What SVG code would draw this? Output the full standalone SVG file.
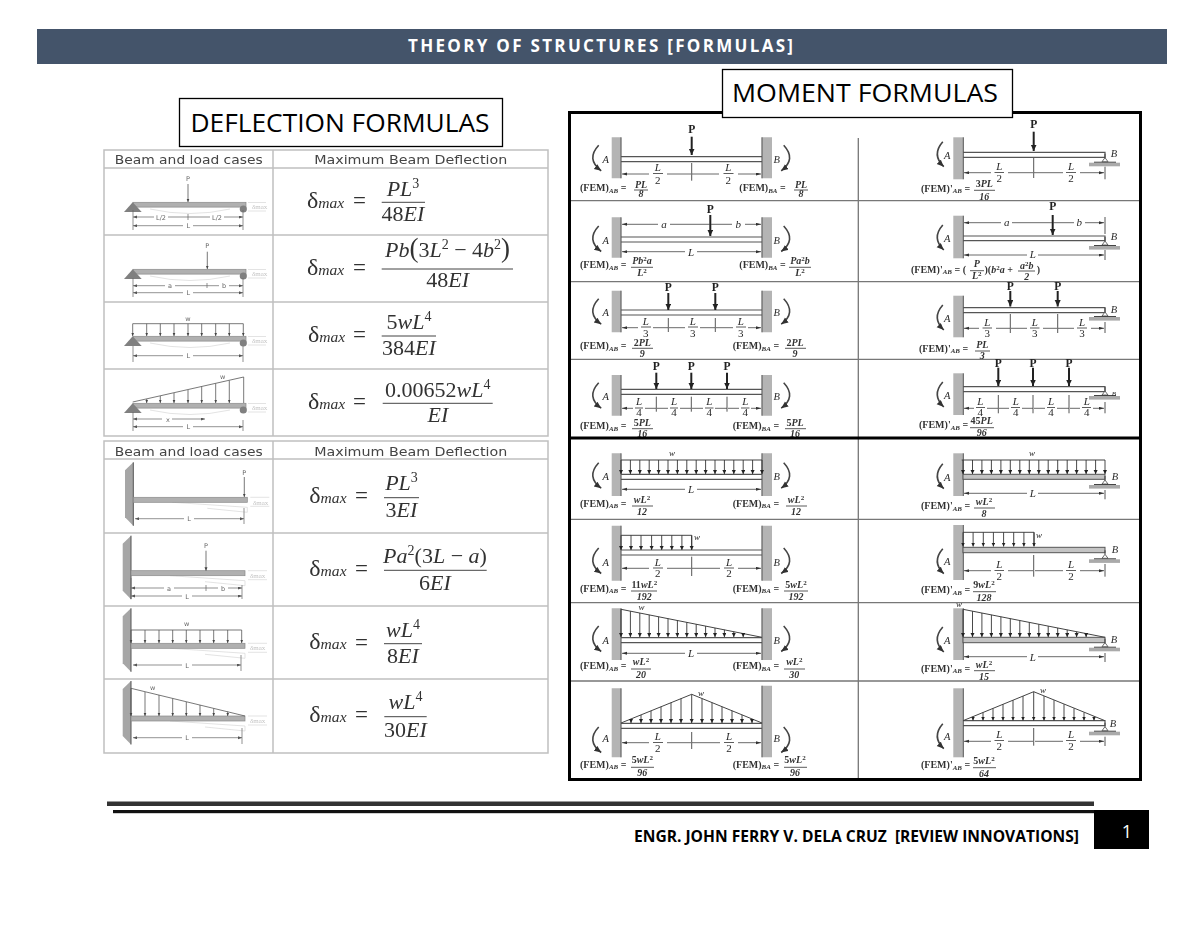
<svg xmlns="http://www.w3.org/2000/svg" width="1200" height="927" viewBox="0 0 1200 927">
<style>
text{font-family:"Liberation Serif","Times New Roman",serif;fill:#2a2a2a}
.hd{font-family:"Open Sans","Liberation Sans",sans-serif;text-anchor:middle}
.th{font-family:"DejaVu Sans","Liberation Sans",sans-serif;font-size:12.7px;fill:#444;text-anchor:middle}
.tl{fill:none;stroke:#c0c0c0;stroke-width:1.5}
.fm{font-style:italic;font-size:22px;text-anchor:middle;fill:#333}
.fx{font-size:24px;fill:#333}
.mx{font-style:italic;font-size:15.6px}
.eq{font-size:23px;fill:#333}
.su{font-style:normal;font-size:14px}
.r{font-style:normal}
.fl{stroke:#444;stroke-width:1;fill:none}
.tb{fill:#b0b0b0;stroke:#8a8a8a;stroke-width:.7}
.tsu{fill:#808080}
.fa{fill:none;stroke:#dcdcdc;stroke-width:.8}
.dm{font-size:7px;fill:#c4c4c4}
.ta{fill:none;stroke:#555;stroke-width:.8;marker-end:url(#at)}
.ts{fill:none;stroke:#555;stroke-width:.8}
.td{fill:none;stroke:#666;stroke-width:.7;marker-start:url(#ad);marker-end:url(#ad)}
.tk{fill:none;stroke:#666;stroke-width:.7}
.tt{font-family:"DejaVu Sans","Liberation Sans",sans-serif;font-size:6.5px;fill:#666;text-anchor:middle}
.w{fill:#b4b4b4}
.e{fill:none;stroke:#555;stroke-width:1}
.bm{fill:none;stroke:#555;stroke-width:1.2}
.bf{fill:#c4c4c4;stroke:#555;stroke-width:1}
.sep{fill:none;stroke:#777;stroke-width:1.3}
.pa{fill:none;stroke:#222;stroke-width:2;marker-end:url(#ap)}
.la{fill:none;stroke:#333;stroke-width:.9;marker-end:url(#al)}
.ll{fill:none;stroke:#444;stroke-width:1}
.d{fill:none;stroke:#444;stroke-width:.8;marker-start:url(#ad2);marker-end:url(#ad2)}
.k{fill:none;stroke:#444;stroke-width:.9}
.m{fill:none;stroke:#444;stroke-width:1.6;marker-end:url(#am)}
.fb{fill:none;stroke:#333;stroke-width:.8}
.p{font-weight:bold;font-size:11.5px;text-anchor:middle;fill:#222}
.lb{font-style:italic;font-size:11px;text-anchor:middle}
.n{font-size:11px;text-anchor:middle}
.ab{font-style:italic;font-size:10.5px;text-anchor:middle}
.fe{font-size:10px;font-weight:bold;fill:#333}
.sb{font-size:7px;font-style:italic}
.fr{font-style:italic;font-size:10px;font-weight:bold;text-anchor:middle;fill:#333}
.up{font-size:7px;font-style:normal}
.w9{font-style:italic;font-size:9px}
</style>
<defs>
<filter id="soft" filterUnits="userSpaceOnUse" x="0" y="0" width="1200" height="927"><feGaussianBlur stdDeviation="0.4"/></filter>
<marker id="at" markerUnits="userSpaceOnUse" markerWidth="4" markerHeight="4" refX="3.5" refY="1.5" orient="auto"><path d="M0 0L3.5 1.5L0 3z" fill="#444"/></marker>
<marker id="ad" markerUnits="userSpaceOnUse" markerWidth="5" markerHeight="4" refX="4" refY="1.5" orient="auto-start-reverse"><path d="M0 0L4 1.5L0 3z" fill="#555"/></marker>
<marker id="ad2" markerUnits="userSpaceOnUse" markerWidth="6" markerHeight="4" refX="5" refY="1.5" orient="auto-start-reverse"><path d="M0 0L5 1.5L0 3z" fill="#333"/></marker>
<marker id="ap" markerUnits="userSpaceOnUse" markerWidth="8" markerHeight="8" refX="6.5" refY="3" orient="auto"><path d="M0 0L6.5 3L0 6z" fill="#222"/></marker>
<marker id="al" markerUnits="userSpaceOnUse" markerWidth="5" markerHeight="5" refX="4" refY="2" orient="auto"><path d="M0 0L4 2L0 4z" fill="#222"/></marker>
<marker id="am" markerUnits="userSpaceOnUse" markerWidth="9" markerHeight="8" refX="7" refY="3" orient="auto"><path d="M0 0L7 3L0 6z" fill="#333"/></marker>
<path id="mA" class="m" d="M-7 -14Q-20 0 -4.5 11.5"/>
<path id="mB" class="m" d="M7 -14Q20 0 4.5 11.5"/>
<path id="mC" class="m" d="M-4.5 -13Q-16 0 -3.5 12"/>
<g id="ssb">
<path class="fa" d="M150 209Q190 218 230 209M248 202.5H266M248 211H266"/>
<rect class="tb" x="133" y="202.3" width="113" height="4.8"/>
<path class="tsu" d="M132.7 202.3L141.7 212H124z"/>
<circle class="tsu" cx="243.3" cy="209" r="3.6"/>
</g>
<g id="cant">
<path class="fa" d="M170 5L245 10V15L205 11M248 0H267M248 9H267"/>
<path fill="#a6a6a6" d="M131 -35L122.7 -27V20L131 28.5z"/>
<path class="e" d="M131 -35V28.5"/>
<rect class="tb" x="131" y="0" width="114" height="5"/>
</g>
<g id="sup">
<rect x="-16" y="1" width="31" height="3.6" fill="#aaa"/>
<path class="ll" d="M-11 0.5H11" stroke-width="1.5"/>
<path d="M-3 0L0 -4L3 0z" fill="#fff" stroke="#444" stroke-width=".8"/>
<path class="ll" d="M0 -4V-8"/>
</g>
</defs>
<rect width="1200" height="927" fill="#fff"/>

<g id="header">
<rect x="37" y="29" width="1130" height="35" fill="#44546a"/>
<text class="hd" x="600.5" y="52" font-size="17" font-weight="bold" style="fill:#fff" textLength="385" lengthAdjust="spacing">THEORY OF STRUCTURES [FORMULAS]</text>
</g>

<g id="deflection-table" filter="url(#soft)">
<path class="tl" d="M104 150H548V436H104zM273 150V436M104 168H548M104 235H548M104 302H548M104 369H548"/>
<path class="tl" d="M104 441H548V753H104zM273 441V753M104 459H548M104 533H548M104 606H548M104 679H548"/>
<text class="th" x="188.7" y="164" textLength="148" lengthAdjust="spacingAndGlyphs">Beam and load cases</text>
<text class="th" x="410.7" y="164" textLength="193" lengthAdjust="spacingAndGlyphs">Maximum Beam Deflection</text>
<text class="th" x="188.7" y="455.5" textLength="148" lengthAdjust="spacingAndGlyphs">Beam and load cases</text>
<text class="th" x="410.7" y="455.5" textLength="193" lengthAdjust="spacingAndGlyphs">Maximum Beam Deflection</text>

<g id="d1">
<use href="#ssb"/>
<text class="dm" x="252" y="209">δmax</text>
<path class="ta" d="M188 184V202"/><text class="tt" x="188" y="181">P</text>
<path class="td" d="M133 217H154M168 217H188M188 217H210M224 217H243"/>
<path class="td" d="M133 225.7H183M193 225.7H243"/>
<path class="tk" d="M133 210V230M243 210V230M188 214V220"/>
<text class="tt" x="161" y="219.5">L/2</text><text class="tt" x="217" y="219.5">L/2</text><text class="tt" x="188.3" y="228">L</text>
<text class="fx" x="307" y="207.5">δ<tspan class="mx">max</tspan></text><text class="eq" x="353" y="208">=</text>
<path class="fl" d="M381.7 202.3H425"/>
<text class="fm" x="403" y="195.7">PL<tspan class="su" dy="-8">3</tspan></text>
<text class="fm" x="403" y="221"><tspan class="r">48</tspan>EI</text>
</g>
<g id="d2">
<use href="#ssb" y="67"/>
<text class="dm" x="252" y="276">δmax</text>
<path class="ta" d="M207.3 251.7V269"/><text class="tt" x="207.3" y="248">P</text>
<path class="td" d="M133 285.7H165M175 285.7H207M207 285.7H219M229 285.7H243"/>
<path class="td" d="M133 292.7H183M193 292.7H243"/>
<path class="tk" d="M133 278V297M243 278V297M207 283V288"/>
<text class="tt" x="170" y="288">a</text><text class="tt" x="224" y="288">b</text><text class="tt" x="188.3" y="295">L</text>
<text class="fx" x="307" y="274.5">δ<tspan class="mx">max</tspan></text><text class="eq" x="353" y="275">=</text>
<path class="fl" d="M381.7 269H513"/>
<text class="fm" x="447.5" y="256.7">Pb<tspan class="r" font-size="27">(</tspan><tspan class="r">3</tspan>L<tspan class="su" dy="-8">2</tspan><tspan class="r" dy="8"> − 4</tspan>b<tspan class="su" dy="-8">2</tspan><tspan class="r" dy="8" font-size="27">)</tspan></text>
<text class="fm" x="447.7" y="287.3"><tspan class="r">48</tspan>EI</text>
</g>
<g id="d3">
<use href="#ssb" y="134"/>
<text class="dm" x="252" y="343">δmax</text>
<text class="tt" x="188" y="321">w</text>
<path class="ts" d="M132.7 323.7H243.3"/>
<path class="ta" d="M132.7 323.7V336"/><path class="ta" d="M146.7 323.7V336"/><path class="ta" d="M160.3 323.7V336"/><path class="ta" d="M174 323.7V336"/><path class="ta" d="M188 323.7V336"/><path class="ta" d="M201.7 323.7V336"/><path class="ta" d="M215.7 323.7V336"/><path class="ta" d="M229.3 323.7V336"/><path class="ta" d="M243.3 323.7V336"/>
<path class="td" d="M133 355.7H183M193 355.7H243"/>
<path class="tk" d="M133 346V362M243 346V362"/>
<text class="tt" x="188.3" y="358">L</text>
<text class="fx" x="308" y="341.5">δ<tspan class="mx">max</tspan></text><text class="eq" x="353" y="342">=</text>
<path class="fl" d="M381.7 336H436"/>
<text class="fm" x="409" y="329"><tspan class="r">5</tspan>wL<tspan class="su" dy="-8">4</tspan></text>
<text class="fm" x="409" y="355"><tspan class="r">384</tspan>EI</text>
</g>
<g id="d4">
<use href="#ssb" y="201"/>
<text class="dm" x="252" y="410">δmax</text>
<text class="tt" x="222.7" y="379">w</text>
<path class="ts" d="M132.7 402L243.7 377V403"/>
<path class="ta" d="M146.7 399V403"/><path class="ta" d="M160.3 396V403"/><path class="ta" d="M174 393V403"/><path class="ta" d="M188 390V403"/><path class="ta" d="M201.7 386.5V403"/><path class="ta" d="M215.7 383.5V403"/><path class="ta" d="M229.3 380.5V403"/>
<path class="td" d="M133 419H162M172 419H205"/>
<path class="td" d="M133 426.7H183M193 426.7H243"/>
<path class="tk" d="M133 412V431M243 420V431"/>
<text class="tt" x="168" y="421.5">x</text><text class="tt" x="188.3" y="429">L</text>
<text class="fx" x="308" y="408.5">δ<tspan class="mx">max</tspan></text><text class="eq" x="353" y="409">=</text>
<path class="fl" d="M382.7 403.3H492.7"/>
<text class="fm" x="437.7" y="396.7"><tspan class="r">0.00652</tspan>wL<tspan class="su" dy="-8">4</tspan></text>
<text class="fm" x="438" y="422.3">EI</text>
</g>
<g id="d5">
<use href="#cant" x="2.3" y="497.3"/>
<text class="dm" x="253" y="505">δmax</text>
<path class="ta" d="M244.3 477V497"/><text class="tt" x="244.3" y="474.5">P</text>
<path class="td" d="M135 518.7H184M194 518.7H244"/><path class="tk" d="M244 508V524"/>
<text class="tt" x="189" y="521">L</text>
<text class="fx" x="309.3" y="502.5">δ<tspan class="mx">max</tspan></text><text class="eq" x="355" y="503">=</text>
<path class="fl" d="M384 497.7H419"/>
<text class="fm" x="401.5" y="490">PL<tspan class="su" dy="-8">3</tspan></text>
<text class="fm" x="401.5" y="517.3"><tspan class="r">3</tspan>EI</text>
</g>
<g id="d6">
<use href="#cant" y="570.7"/>
<text class="dm" x="250" y="578">δmax</text>
<path class="ta" d="M206 550.7V570.7"/><text class="tt" x="206" y="547.5">P</text>
<path class="td" d="M131 588H164M174 588H206M206 588H218M228 588H242"/>
<path class="td" d="M131 596H182M192 596H242"/>
<path class="tk" d="M131 578V599M242 585V599M206 585V591"/>
<text class="tt" x="169" y="590.5">a</text><text class="tt" x="223" y="590.5">b</text><text class="tt" x="187" y="598.5">L</text>
<text class="fx" x="309.3" y="575.5">δ<tspan class="mx">max</tspan></text><text class="eq" x="355" y="576">=</text>
<path class="fl" d="M384 570.3H486.7"/>
<text class="fm" x="435" y="562.7">Pa<tspan class="su" dy="-8">2</tspan><tspan class="r" dy="8">(3</tspan>L<tspan class="r"> − </tspan>a<tspan class="r">)</tspan></text>
<text class="fm" x="435" y="590"><tspan class="r">6</tspan>EI</text>
</g>
<g id="d7">
<use href="#cant" y="643.3"/>
<text class="dm" x="250" y="650">δmax</text>
<text class="tt" x="186.7" y="626">w</text>
<path class="ts" d="M131 630H241.7"/>
<path class="ta" d="M131 630V643"/><path class="ta" d="M145 630V643"/><path class="ta" d="M159 630V643"/><path class="ta" d="M172.7 630V643"/><path class="ta" d="M186.3 630V643"/><path class="ta" d="M200 630V643"/><path class="ta" d="M213.7 630V643"/><path class="ta" d="M227.7 630V643"/><path class="ta" d="M241.7 630V643"/>
<path class="td" d="M133 665H182M192 665H241"/><path class="tk" d="M241 655V671"/>
<text class="tt" x="187" y="667.5">L</text>
<text class="fx" x="309.3" y="649">δ<tspan class="mx">max</tspan></text><text class="eq" x="355" y="649.5">=</text>
<path class="fl" d="M384 643.7H422"/>
<text class="fm" x="403" y="636.7">wL<tspan class="su" dy="-8">4</tspan></text>
<text class="fm" x="403" y="663.3"><tspan class="r">8</tspan>EI</text>
</g>
<g id="d8">
<use href="#cant" y="716"/>
<text class="dm" x="250" y="723">δmax</text>
<text class="tt" x="152.7" y="690">w</text>
<path class="ts" d="M131 688.3L245 716"/>
<path class="ta" d="M131 688.3V716"/><path class="ta" d="M145 692V716"/><path class="ta" d="M159 695V716"/><path class="ta" d="M172.7 698.5V716"/><path class="ta" d="M186.3 702V716"/><path class="ta" d="M200 705V716"/><path class="ta" d="M213.7 708.5V716"/><path class="ta" d="M227.7 711.5V716"/>
<path class="td" d="M133 737.7H182M192 737.7H242"/><path class="tk" d="M242 728V744"/>
<text class="tt" x="187" y="740">L</text>
<text class="fx" x="309.3" y="721.5">δ<tspan class="mx">max</tspan></text><text class="eq" x="355" y="722">=</text>
<path class="fl" d="M384.3 716.7H426.7"/>
<text class="fm" x="405.5" y="708.7">wL<tspan class="su" dy="-8">4</tspan></text>
<text class="fm" x="405.5" y="736.7"><tspan class="r">30</tspan>EI</text>
</g>
</g>

<g id="moment-table" filter="url(#soft)">
<path class="sep" d="M570 200.7H1140M570 281.7H1140M570 359.3H1140M570 519.3H1140M570 602.7H1140M570 681H1140M858.3 138V778"/>

<g id="m1a">
<path class="w" d="M611.7 137.3h9.5v41h-9.5zM761.7 137.3h10.3v41h-10.3z"/><path class="e" d="M621 137.3v41M762 137.3v41"/>
<path class="bm" d="M621 156.7H762M621 161.7H762"/>
<path class="pa" d="M691.7 136.7V155"/><text class="p" x="691.7" y="132.7">P</text>
<path class="d" d="M622 174H649M667 174H691M692 174H719M738 174H761"/><path class="k" d="M691.7 163V180.7"/>
<text class="lb" x="657.7" y="171">L</text><path class="fb" d="M653 173.5H663"/><text class="n" x="657.7" y="184">2</text>
<text class="lb" x="728.3" y="171">L</text><path class="fb" d="M723.5 173.5H733.5"/><text class="n" x="728.3" y="184">2</text>
<use href="#mA" x="605.7" y="159.3"/><text class="ab" x="605.7" y="163">A</text>
<use href="#mB" x="776.7" y="159.3"/><text class="ab" x="776.7" y="163">B</text>
<text class="fe" x="580" y="191">(FEM)<tspan class="sb" dy="1.5">AB</tspan><tspan dy="-1.5"> =</tspan></text>
<text class="fr" x="641" y="187.7">PL</text><path class="fb" d="M634 190H648"/><text class="fr r" x="641" y="196.7">8</text>
<text class="fe" x="739.3" y="191">(FEM)<tspan class="sb" dy="1.5">BA</tspan><tspan dy="-1.5"> =</tspan></text>
<text class="fr" x="801" y="187.7">PL</text><path class="fb" d="M794 190H808"/><text class="fr r" x="801" y="196.7">8</text>
</g>
<g id="m2a">
<path class="w" d="M611.7 217.3h9.5v40.4h-9.5zM761.7 217.3h10.3v40.4h-10.3z"/><path class="e" d="M621 217.3v40.4M762 217.3v40.4"/>
<path class="bm" d="M621 237H762M621 242H762"/>
<path class="pa" d="M710.3 215V236"/><text class="p" x="710.3" y="212.7">P</text>
<path class="d" d="M622 224.3H658M670 224.3H710M711 224.3H732M745 224.3H761"/>
<path class="d" d="M622 251.7H685M697 251.7H761"/>
<text class="lb" x="664" y="228">a</text><text class="lb" x="738.3" y="228">b</text><text class="lb" x="691" y="255.5">L</text>
<use href="#mA" x="605.7" y="240"/><text class="ab" x="605.7" y="243.5">A</text>
<use href="#mB" x="776.7" y="240"/><text class="ab" x="776.7" y="243.5">B</text>
<text class="fe" x="580" y="268.3">(FEM)<tspan class="sb" dy="1.5">AB</tspan><tspan dy="-1.5"> =</tspan></text>
<text class="fr" x="642" y="264">Pb<tspan class="up" dy="-3">2</tspan><tspan dy="3">a</tspan></text><path class="fb" d="M631 267.3H653"/><text class="fr" x="642" y="275.5">L<tspan class="up" dy="-3">2</tspan></text>
<text class="fe" x="739.3" y="268.3">(FEM)<tspan class="sb" dy="1.5">BA</tspan><tspan dy="-1.5"> =</tspan></text>
<text class="fr" x="800" y="264">Pa<tspan class="up" dy="-3">2</tspan><tspan dy="3">b</tspan></text><path class="fb" d="M789 267.3H811"/><text class="fr" x="800" y="275.5">L<tspan class="up" dy="-3">2</tspan></text>
</g>
<g id="m3a">
<path class="w" d="M611.7 290.7h9.5v41.6h-9.5zM761.7 290.7h10.3v41.6h-10.3z"/><path class="e" d="M621 290.7v41.6M762 290.7v41.6"/>
<path class="bm" d="M621 310H762M621 315H762"/>
<path class="pa" d="M668.3 293V310"/><path class="pa" d="M715.3 293V310"/><text class="p" x="668.3" y="291">P</text><text class="p" x="715.3" y="291">P</text>
<path class="d" d="M622 327.7H638M653 327.7H668M669 327.7H685M700 327.7H715M716 327.7H733M748 327.7H761"/>
<path class="k" d="M668.3 318V332M715.3 318V332"/>
<text class="lb" x="645.7" y="325">L</text><path class="fb" d="M641 327H651"/><text class="n" x="645.7" y="337">3</text>
<text class="lb" x="692.7" y="325">L</text><path class="fb" d="M688 327H698"/><text class="n" x="692.7" y="337">3</text>
<text class="lb" x="740.7" y="325">L</text><path class="fb" d="M736 327H746"/><text class="n" x="740.7" y="337">3</text>
<use href="#mA" x="605.7" y="312.7"/><text class="ab" x="605.7" y="316">A</text>
<use href="#mB" x="776.7" y="312.7"/><text class="ab" x="776.7" y="316">B</text>
<text class="fe" x="580" y="349">(FEM)<tspan class="sb" dy="1.5">AB</tspan><tspan dy="-1.5"> =</tspan></text>
<text class="fr" x="642.3" y="345.7"><tspan class="r">2</tspan>PL</text><path class="fb" d="M632 348.3H653"/><text class="fr r" x="642.3" y="357">9</text>
<text class="fe" x="732.7" y="349">(FEM)<tspan class="sb" dy="1.5">BA</tspan><tspan dy="-1.5"> =</tspan></text>
<text class="fr" x="795" y="345.7"><tspan class="r">2</tspan>PL</text><path class="fb" d="M785 348.3H806"/><text class="fr r" x="795" y="357">9</text>
</g>
<g id="m4a">
<path class="w" d="M611.7 375h9.5v40.7h-9.5zM761.7 375h10.3v40.7h-10.3z"/><path class="e" d="M621 375v40.7M762 375v40.7"/>
<path class="bm" d="M621 389.3H762M621 394.3H762"/>
<path class="pa" d="M656.3 372.7V389"/><path class="pa" d="M691.3 372.7V389"/><path class="pa" d="M727 372.7V389"/>
<text class="p" x="656.3" y="370">P</text><text class="p" x="691.3" y="370">P</text><text class="p" x="727" y="370">P</text>
<path class="d" d="M622 408.3H633M645 408.3H656M657 408.3H668M680 408.3H691M692 408.3H703M715 408.3H727M728 408.3H739M751 408.3H761"/>
<path class="k" d="M656.3 396.7V411.7M691.3 396.7V411.7M727 396.7V411.7"/>
<text class="lb" x="639" y="405">L</text><path class="fb" d="M635 408H643"/><text class="n" x="639" y="416">4</text>
<text class="lb" x="674" y="405">L</text><path class="fb" d="M670 408H678"/><text class="n" x="674" y="416">4</text>
<text class="lb" x="709.3" y="405">L</text><path class="fb" d="M705 408H713.5"/><text class="n" x="709.3" y="416">4</text>
<text class="lb" x="745.3" y="405">L</text><path class="fb" d="M741 408H749.5"/><text class="n" x="745.3" y="416">4</text>
<use href="#mA" x="605.7" y="396.7"/><text class="ab" x="605.7" y="400">A</text>
<use href="#mB" x="776.7" y="396.7"/><text class="ab" x="776.7" y="400">B</text>
<text class="fe" x="580" y="429">(FEM)<tspan class="sb" dy="1.5">AB</tspan><tspan dy="-1.5"> =</tspan></text>
<text class="fr" x="642.3" y="426"><tspan class="r">5</tspan>PL</text><path class="fb" d="M632 428.7H653"/><text class="fr r" x="642.3" y="437">16</text>
<text class="fe" x="732.7" y="429">(FEM)<tspan class="sb" dy="1.5">BA</tspan><tspan dy="-1.5"> =</tspan></text>
<text class="fr" x="795" y="426"><tspan class="r">5</tspan>PL</text><path class="fb" d="M785 428.7H806"/><text class="fr r" x="795" y="437">16</text>
</g>
<g id="m5a">
<path class="w" d="M611.7 453.3h9.5v42.7h-9.5zM761.7 453.3h10.3v42.7h-10.3z"/><path class="e" d="M621 453.3v42.7M762 453.3v42.7"/>
<path class="bm" d="M621 474.3H762M621 479.3H762"/>
<path class="ll" d="M621 460H762"/><text class="w9" x="669" y="456">w</text>
<path class="la" d="M621 460V474"/><path class="la" d="M630.4 460V474"/><path class="la" d="M639.8 460V474"/><path class="la" d="M649.2 460V474"/><path class="la" d="M658.6 460V474"/><path class="la" d="M668 460V474"/><path class="la" d="M677.4 460V474"/><path class="la" d="M686.8 460V474"/><path class="la" d="M696.2 460V474"/><path class="la" d="M705.6 460V474"/><path class="la" d="M715 460V474"/><path class="la" d="M724.4 460V474"/><path class="la" d="M733.8 460V474"/><path class="la" d="M743.2 460V474"/><path class="la" d="M752.6 460V474"/><path class="la" d="M762 460V474"/>
<path class="d" d="M622 489.3H685M697 489.3H761"/><text class="lb" x="691" y="493">L</text>
<use href="#mA" x="605.7" y="476.7"/><text class="ab" x="605.7" y="480">A</text>
<use href="#mB" x="776.7" y="476.7"/><text class="ab" x="776.7" y="480">B</text>
<text class="fe" x="580" y="506.7">(FEM)<tspan class="sb" dy="1.5">AB</tspan><tspan dy="-1.5"> =</tspan></text>
<text class="fr" x="642" y="503.3">wL<tspan class="up" dy="-3">2</tspan></text><path class="fb" d="M632 506H653"/><text class="fr r" x="642" y="515">12</text>
<text class="fe" x="732.7" y="506.7">(FEM)<tspan class="sb" dy="1.5">BA</tspan><tspan dy="-1.5"> =</tspan></text>
<text class="fr" x="796" y="503.3">wL<tspan class="up" dy="-3">2</tspan></text><path class="fb" d="M786 506H807"/><text class="fr r" x="796" y="515">12</text>
</g>
<g id="m6a">
<path class="w" d="M611.7 525.7h9.5v55h-9.5zM761.7 525.7h10.3v55h-10.3z"/><path class="e" d="M621 525.7v55M762 525.7v55"/>
<path class="bm" d="M621 550H762M621 555H762"/>
<path class="ll" d="M621 535.3H691.7V550"/><text class="w9" x="694" y="540">w</text>
<path class="la" d="M621 535.3V550"/><path class="la" d="M631 535.3V550"/><path class="la" d="M641 535.3V550"/><path class="la" d="M651.6 535.3V550"/><path class="la" d="M661.7 535.3V550"/><path class="la" d="M671.8 535.3V550"/><path class="la" d="M681.9 535.3V550"/><path class="la" d="M691.7 535.3V550"/>
<path class="d" d="M622 568.3H649M667 568.3H691M692 568.3H720M738 568.3H761"/><path class="k" d="M691.7 556.7V576"/>
<text class="lb" x="657.7" y="565.7">L</text><path class="fb" d="M653 568H663"/><text class="n" x="657.7" y="577">2</text>
<text class="lb" x="729" y="565.7">L</text><path class="fb" d="M724 568H734"/><text class="n" x="729" y="577">2</text>
<use href="#mA" x="605.7" y="562"/><text class="ab" x="605.7" y="565.5">A</text>
<use href="#mB" x="776.7" y="562"/><text class="ab" x="776.7" y="565.5">B</text>
<text class="fe" x="580" y="591.7">(FEM)<tspan class="sb" dy="1.5">AB</tspan><tspan dy="-1.5"> =</tspan></text>
<text class="fr" x="644.3" y="587.7"><tspan class="r">11</tspan>wL<tspan class="up" dy="-3">2</tspan></text><path class="fb" d="M631 591H657"/><text class="fr r" x="644.3" y="599.5">192</text>
<text class="fe" x="732.7" y="591.7">(FEM)<tspan class="sb" dy="1.5">BA</tspan><tspan dy="-1.5"> =</tspan></text>
<text class="fr" x="796" y="587.7"><tspan class="r">5</tspan>wL<tspan class="up" dy="-3">2</tspan></text><path class="fb" d="M784 591H808"/><text class="fr r" x="796" y="599.5">192</text>
</g>
<g id="m7a">
<path class="w" d="M611.7 608.3h9.5v51.7h-9.5zM761.7 608.3h10.3v51.7h-10.3z"/><path class="e" d="M621 608.3v51.7M762 608.3v51.7"/>
<path class="bm" d="M621 637.7H762M621 642.7H762"/>
<path class="ll" d="M621 609.3L762 637.3"/><text class="w9" x="638.5" y="610">w</text>
<path class="la" d="M621 609.3V637"/><path class="la" d="M630.4 611.2V637"/><path class="la" d="M639.8 613V637"/><path class="la" d="M649.2 614.9V637"/><path class="la" d="M658.6 616.8V637"/><path class="la" d="M668 618.6V637"/><path class="la" d="M677.4 620.5V637"/><path class="la" d="M686.8 622.4V637"/><path class="la" d="M696.2 624.2V637"/><path class="la" d="M705.6 626.1V637"/><path class="la" d="M715 628V637"/><path class="la" d="M724.4 629.8V637"/><path class="la" d="M733.8 631.7V637"/><path class="la" d="M743.2 633.6V637"/>
<path class="d" d="M622 653.3H685M697 653.3H761"/><text class="lb" x="691" y="657">L</text>
<use href="#mA" x="605.7" y="640"/><text class="ab" x="605.7" y="643.5">A</text>
<use href="#mB" x="776.7" y="640"/><text class="ab" x="776.7" y="643.5">B</text>
<text class="fe" x="580" y="669.3">(FEM)<tspan class="sb" dy="1.5">AB</tspan><tspan dy="-1.5"> =</tspan></text>
<text class="fr" x="641" y="665">wL<tspan class="up" dy="-3">2</tspan></text><path class="fb" d="M631 669H651"/><text class="fr r" x="641" y="678">20</text>
<text class="fe" x="732.7" y="669.3">(FEM)<tspan class="sb" dy="1.5">BA</tspan><tspan dy="-1.5"> =</tspan></text>
<text class="fr" x="794.3" y="665">wL<tspan class="up" dy="-3">2</tspan></text><path class="fb" d="M784 669H805"/><text class="fr r" x="794.3" y="678">30</text>
</g>
<g id="m8a">
<path class="w" d="M611.7 688.3h9.5v69h-9.5zM761.7 685.7h10.3v71.6h-10.3z"/><path class="e" d="M621 688.3v69M762 685.7v71.6"/>
<path class="bm" d="M621 723.3H762M621 728.3H762"/>
<path class="ll" d="M621 723L691.7 694.3L762 723"/><text class="w9" x="698" y="696">w</text>
<path class="la" d="M631 719V723"/><path class="la" d="M641 714.9V723"/><path class="la" d="M651 710.8V723"/><path class="la" d="M661 706.8V723"/><path class="la" d="M671 702.7V723"/><path class="la" d="M681 698.6V723"/><path class="la" d="M691.7 694.3V723"/><path class="la" d="M702 698.6V723"/><path class="la" d="M712 702.7V723"/><path class="la" d="M722 706.8V723"/><path class="la" d="M732 710.8V723"/><path class="la" d="M742 714.9V723"/><path class="la" d="M752 719V723"/>
<path class="d" d="M622 742.7H649M667 742.7H691M692 742.7H720M738 742.7H761"/><path class="k" d="M691.7 732V749"/>
<text class="lb" x="657.7" y="740">L</text><path class="fb" d="M653 742.5H663"/><text class="n" x="657.7" y="752">2</text>
<text class="lb" x="729" y="740">L</text><path class="fb" d="M724 742.5H734"/><text class="n" x="729" y="752">2</text>
<use href="#mA" x="605.7" y="741"/><text class="ab" x="605.7" y="741.5">A</text>
<use href="#mB" x="776.7" y="741"/><text class="ab" x="776.7" y="741.5">B</text>
<text class="fe" x="580" y="767.7">(FEM)<tspan class="sb" dy="1.5">AB</tspan><tspan dy="-1.5"> =</tspan></text>
<text class="fr" x="642.3" y="763.3"><tspan class="r">5</tspan>wL<tspan class="up" dy="-3">2</tspan></text><path class="fb" d="M631 767.3H654"/><text class="fr r" x="642.3" y="776">96</text>
<text class="fe" x="732.7" y="767.7">(FEM)<tspan class="sb" dy="1.5">BA</tspan><tspan dy="-1.5"> =</tspan></text>
<text class="fr" x="795" y="763.3"><tspan class="r">5</tspan>wL<tspan class="up" dy="-3">2</tspan></text><path class="fb" d="M784 767.3H807"/><text class="fr r" x="795" y="776">96</text>
</g>

<g id="m1b">
<path class="w" d="M953.3 137.3h10v42h-10z"/><path class="e" d="M963.3 137.3v42"/>
<path class="bm" d="M963 152.3H1105V157.3H963"/>
<use href="#sup" x="1105" y="161.7"/>
<path class="pa" d="M1033.7 131.7V151"/><text class="p" x="1033.7" y="128.3">P</text>
<path class="d" d="M964 172.7H991M1008 172.7H1033M1034 172.7H1063M1080 172.7H1104"/><path class="k" d="M1033.7 158V178M1105 166.7V179.3"/>
<text class="lb" x="999.3" y="170">L</text><path class="fb" d="M994.5 172.5H1004"/><text class="n" x="999.3" y="182">2</text>
<text class="lb" x="1071" y="170">L</text><path class="fb" d="M1066 172.5H1076"/><text class="n" x="1071" y="182">2</text>
<use href="#mC" x="947.3" y="154.7"/><text class="ab" x="947.3" y="158.5">A</text>
<text class="ab" x="1114" y="157">B</text>
<text class="fe" x="921" y="191.7">(FEM)'<tspan class="sb" dy="1.5">AB</tspan><tspan dy="-1.5"> =</tspan></text>
<text class="fr" x="984.3" y="187.3"><tspan class="r">3</tspan>PL</text><path class="fb" d="M974 190.3H995"/><text class="fr r" x="984.3" y="199.5">16</text>
</g>
<g id="m2b">
<path class="w" d="M953.3 215.7h10v42.6h-10z"/><path class="e" d="M963.3 215.7v42.6"/>
<path class="bm" d="M963 236H1105V240.7H963"/>
<use href="#sup" x="1105" y="245"/>
<path class="pa" d="M1052.7 215V235"/><text class="p" x="1052.7" y="210">P</text>
<path class="d" d="M964 222.7H1001M1012 222.7H1052M1053 222.7H1074M1085 222.7H1104"/><path class="k" d="M1105 217V234M1105 250V260"/>
<path class="d" d="M964 255H1027M1038 255H1104"/>
<text class="lb" x="1006.7" y="226">a</text><text class="lb" x="1079.3" y="226">b</text><text class="lb" x="1032.7" y="257.5" font-size="9.5">L</text>
<use href="#mC" x="947.3" y="238"/><text class="ab" x="947.3" y="241.5">A</text>
<text class="ab" x="1114" y="240">B</text>
<text class="fe" x="911" y="272.7">(FEM)'<tspan class="sb" dy="1.5">AB</tspan><tspan dy="-1.5"> = (</tspan></text>
<text class="fr" x="976.7" y="267.3">P</text><path class="fb" d="M970 270.7H984"/><text class="fr" x="976.7" y="279">L<tspan class="up" dy="-3">2</tspan></text>
<text class="fe" x="984.5" y="272.7">)(<tspan font-style="italic">b</tspan><tspan class="up" dy="-3">2</tspan><tspan font-style="italic" dy="3">a</tspan> +</text>
<text class="fr" x="1026.7" y="268.5" font-size="9">a<tspan class="up" dy="-2.5">2</tspan><tspan dy="2.5">b</tspan></text><path class="fb" d="M1018 271H1035"/><text class="fr r" x="1026.7" y="279.5">2</text>
<text class="fe" x="1036.7" y="272.7">)</text>
</g>
<g id="m3b">
<path class="w" d="M953.3 295.7h10v41.6h-10z"/><path class="e" d="M963.3 295.7v41.6"/>
<path class="bm" d="M963 307.7H1105V312.7H963"/>
<use href="#sup" x="1105" y="316"/>
<path class="pa" d="M1010.3 291V306.5"/><path class="pa" d="M1057.7 291V306.5"/>
<text class="p" x="1010.3" y="289.5">P</text><text class="p" x="1057.7" y="289.5">P</text>
<path class="d" d="M964 328.3H979M996 328.3H1010M1011 328.3H1027M1043 328.3H1057M1058 328.3H1074M1091 328.3H1104"/>
<path class="k" d="M1010.3 314V333M1057.7 314V333M1105 322V333"/>
<text class="lb" x="987.3" y="325.7">L</text><path class="fb" d="M982.5 328H992"/><text class="n" x="987.3" y="337">3</text>
<text class="lb" x="1034.7" y="325.7">L</text><path class="fb" d="M1030 328H1039.5"/><text class="n" x="1034.7" y="337">3</text>
<text class="lb" x="1082" y="325.7">L</text><path class="fb" d="M1077 328H1087"/><text class="n" x="1082" y="337">3</text>
<use href="#mC" x="947.3" y="318"/><text class="ab" x="947.3" y="321.5">A</text>
<text class="ab" x="1114" y="313">B</text>
<text class="fe" x="919" y="351.7">(FEM)'<tspan class="sb" dy="1.5">AB</tspan><tspan dy="-1.5"> =</tspan></text>
<text class="fr" x="982.3" y="348.3">PL</text><path class="fb" d="M975 351H990"/><text class="fr r" x="982.3" y="359">3</text>
</g>
<g id="m4b">
<path class="w" d="M953.3 373.3h10v41.7h-10z"/><path class="e" d="M963.3 373.3v41.7"/>
<path class="bm" d="M963 386.7H1105V391.7H963"/>
<use href="#sup" x="1105" y="395"/>
<path class="pa" d="M998.3 367.7V386"/><path class="pa" d="M1033 367.7V386"/><path class="pa" d="M1069 367.7V386"/>
<text class="p" x="998.3" y="367">P</text><text class="p" x="1033" y="367">P</text><text class="p" x="1069" y="367">P</text>
<path class="d" d="M964 408.3H974M987 408.3H998M999 408.3H1009M1022 408.3H1033M1034 408.3H1045M1057 408.3H1069M1070 408.3H1080M1093 408.3H1104"/>
<path class="k" d="M998.3 395V413.3M1033 395V413.3M1069 395V413.3M1105 402V413.3"/>
<text class="lb" x="980.3" y="405">L</text><path class="fb" d="M976 407.5H985"/><text class="n" x="980.3" y="415.7">4</text>
<text class="lb" x="1015.7" y="405">L</text><path class="fb" d="M1011 407.5H1020"/><text class="n" x="1015.7" y="415.7">4</text>
<text class="lb" x="1051" y="405">L</text><path class="fb" d="M1047 407.5H1055"/><text class="n" x="1051" y="415.7">4</text>
<text class="lb" x="1086.7" y="405">L</text><path class="fb" d="M1082 407.5H1091"/><text class="n" x="1086.7" y="415.7">4</text>
<use href="#mC" x="947.3" y="395"/><text class="ab" x="947.3" y="398.5">A</text>
<text class="ab" x="1114" y="396" style="font-size:7px">B</text>
<text class="fe" x="919" y="428.3">(FEM)'<tspan class="sb" dy="1.5">AB</tspan><tspan dy="-1.5"> =</tspan></text>
<text class="fr" x="981.7" y="424.3"><tspan class="r">45</tspan>PL</text><path class="fb" d="M970 427.7H994"/><text class="fr r" x="981.7" y="436">96</text>
</g>
<g id="m5b">
<path class="w" d="M953.3 453.3h10v42.7h-10z"/><path class="e" d="M963.3 453.3v42.7"/>
<rect class="bf" x="963" y="474.3" width="142" height="5"/>
<use href="#sup" x="1105" y="484"/>
<path class="ll" d="M961.7 460H1105"/><text class="w9" x="1029" y="456">w</text>
<path class="la" d="M963 460V474"/><path class="la" d="M972.5 460V474"/><path class="la" d="M981.9 460V474"/><path class="la" d="M991.4 460V474"/><path class="la" d="M1000.9 460V474"/><path class="la" d="M1010.3 460V474"/><path class="la" d="M1019.8 460V474"/><path class="la" d="M1029.3 460V474"/><path class="la" d="M1038.8 460V474"/><path class="la" d="M1048.2 460V474"/><path class="la" d="M1057.7 460V474"/><path class="la" d="M1067.2 460V474"/><path class="la" d="M1076.6 460V474"/><path class="la" d="M1086.1 460V474"/><path class="la" d="M1095.6 460V474"/><path class="la" d="M1105 460V474"/>
<path class="d" d="M964 493.3H1027M1038 493.3H1104"/><path class="k" d="M1105 490V499.3"/><text class="lb" x="1032.7" y="497">L</text>
<use href="#mC" x="947.3" y="476.7"/><text class="ab" x="947.3" y="480.5">A</text>
<text class="ab" x="1115" y="479.5">B</text>
<text class="fe" x="921" y="509.3">(FEM)'<tspan class="sb" dy="1.5">AB</tspan><tspan dy="-1.5"> =</tspan></text>
<text class="fr" x="984" y="505">wL<tspan class="up" dy="-3">2</tspan></text><path class="fb" d="M974 508H995"/><text class="fr r" x="984" y="516.5">8</text>
</g>
<g id="m6b">
<path class="w" d="M953.3 525h10v55h-10z"/><path class="e" d="M963.3 525v55"/>
<rect class="bf" x="963" y="547.3" width="142" height="5.4"/>
<use href="#sup" x="1105" y="558.3"/>
<path class="ll" d="M963 532.3H1034V546"/><text class="w9" x="1036" y="537.7">w</text>
<path class="la" d="M963 532.3V546.5"/><path class="la" d="M973.1 532.3V546.5"/><path class="la" d="M983.3 532.3V546.5"/><path class="la" d="M993.4 532.3V546.5"/><path class="la" d="M1003.6 532.3V546.5"/><path class="la" d="M1013.7 532.3V546.5"/><path class="la" d="M1023.9 532.3V546.5"/><path class="la" d="M1034 532.3V546.5"/>
<path class="d" d="M964 570.7H991M1008 570.7H1033M1035 570.7H1063M1080 570.7H1104"/><path class="k" d="M1033.7 555V576.7M1105 564V576.7"/>
<text class="lb" x="999.3" y="568.3">L</text><path class="fb" d="M994.5 570.5H1004"/><text class="n" x="999.3" y="580">2</text>
<text class="lb" x="1071" y="568.3">L</text><path class="fb" d="M1066 570.5H1076"/><text class="n" x="1071" y="580">2</text>
<use href="#mC" x="947.3" y="561.7"/><text class="ab" x="947.3" y="565">A</text>
<text class="ab" x="1115" y="553">B</text>
<text class="fe" x="921" y="593.3">(FEM)'<tspan class="sb" dy="1.5">AB</tspan><tspan dy="-1.5"> =</tspan></text>
<text class="fr" x="984" y="588.3"><tspan class="r">9</tspan>wL<tspan class="up" dy="-3">2</tspan></text><path class="fb" d="M973 591.7H996"/><text class="fr r" x="984" y="601">128</text>
</g>
<g id="m7b">
<path class="w" d="M953.3 608.3h10v51.7h-10z"/><path class="e" d="M963.3 608.3v51.7"/>
<rect class="bf" x="963" y="637.3" width="142" height="5.4"/>
<use href="#sup" x="1105" y="646.7"/>
<path class="ll" d="M963 609.3L1105 637.3"/><text class="w9" x="956" y="607">w</text>
<path class="la" d="M963 609.3V637"/><path class="la" d="M972.5 611.2V637"/><path class="la" d="M981.9 613V637"/><path class="la" d="M991.4 614.9V637"/><path class="la" d="M1000.9 616.8V637"/><path class="la" d="M1010.3 618.6V637"/><path class="la" d="M1019.8 620.5V637"/><path class="la" d="M1029.3 622.4V637"/><path class="la" d="M1038.8 624.3V637"/><path class="la" d="M1048.2 626.1V637"/><path class="la" d="M1057.7 628V637"/><path class="la" d="M1067.2 629.9V637"/><path class="la" d="M1076.6 631.7V637"/><path class="la" d="M1086.1 633.6V637"/>
<path class="d" d="M964 656.7H1027M1038 656.7H1104"/><path class="k" d="M1105 653V662"/><text class="lb" x="1032.7" y="660.5">L</text>
<use href="#mC" x="947.3" y="640"/><text class="ab" x="947.3" y="643.5">A</text>
<text class="ab" x="1114" y="643">B</text>
<text class="fe" x="921" y="671.7">(FEM)'<tspan class="sb" dy="1.5">AB</tspan><tspan dy="-1.5"> =</tspan></text>
<text class="fr" x="984" y="667.7">wL<tspan class="up" dy="-3">2</tspan></text><path class="fb" d="M974 670.7H995"/><text class="fr r" x="984" y="680">15</text>
</g>
<g id="m8b">
<path class="w" d="M953.3 688.3h10v69h-10z"/><path class="e" d="M963.3 688.3v69"/>
<path class="bm" d="M963 720.7H1105V725.7H963"/>
<use href="#sup" x="1105" y="730.7"/>
<path class="ll" d="M963 720.7L1033.7 691.7L1105 720.7"/><text class="w9" x="1040" y="692.7">w</text>
<path class="la" d="M973 716.6V720.5"/><path class="la" d="M983 712.5V720.5"/><path class="la" d="M993 708.4V720.5"/><path class="la" d="M1003 704.3V720.5"/><path class="la" d="M1013 700.2V720.5"/><path class="la" d="M1023 696.1V720.5"/><path class="la" d="M1033.7 691.7V720.5"/><path class="la" d="M1044 696.1V720.5"/><path class="la" d="M1054 700.2V720.5"/><path class="la" d="M1064 704.3V720.5"/><path class="la" d="M1074 708.4V720.5"/><path class="la" d="M1084 712.5V720.5"/><path class="la" d="M1094 716.6V720.5"/>
<path class="d" d="M964 741.3H991M1008 741.3H1033M1035 741.3H1063M1080 741.3H1104"/><path class="k" d="M1033.7 728V745.7M1105 736.7V746"/>
<text class="lb" x="999.3" y="738.3">L</text><path class="fb" d="M994.5 740.5H1004"/><text class="n" x="999.3" y="750">2</text>
<text class="lb" x="1071" y="738.3">L</text><path class="fb" d="M1066 740.5H1076"/><text class="n" x="1071" y="750">2</text>
<use href="#mC" x="947.3" y="736.7"/><text class="ab" x="947.3" y="740">A</text>
<text class="ab" x="1113" y="727">B</text>
<text class="fe" x="921" y="768.3">(FEM)'<tspan class="sb" dy="1.5">AB</tspan><tspan dy="-1.5"> =</tspan></text>
<text class="fr" x="984" y="764"><tspan class="r">5</tspan>wL<tspan class="up" dy="-3">2</tspan></text><path class="fb" d="M973 767.7H996"/><text class="fr r" x="984" y="776.5">64</text>
</g>
</g>

<g id="moment-frame">
<rect x="569.5" y="112.5" width="571" height="667" fill="none" stroke="#000" stroke-width="3"/>
<path d="M569 438H1141" stroke="#000" stroke-width="3" fill="none"/>
</g>

<g id="deflection-title">
<rect x="179.5" y="98.5" width="323" height="48" fill="#fff" stroke="#000" stroke-width="1.3"/>
<text class="hd" x="340" y="131.5" font-size="26" style="fill:#000" textLength="299" lengthAdjust="spacingAndGlyphs">DEFLECTION FORMULAS</text>
</g>
<g id="moment-title">
<rect x="722.5" y="69.5" width="290" height="48" fill="#fff" stroke="#000" stroke-width="1.3"/>
<text class="hd" x="865" y="102" font-size="26" style="fill:#000" textLength="266" lengthAdjust="spacingAndGlyphs">MOMENT FORMULAS</text>
</g>

<g id="footer">
<rect x="107" y="801.5" width="987" height="4.5" fill="#333"/>
<rect x="113" y="810" width="981" height="3.2" fill="#111"/>
<rect x="1094" y="810" width="55" height="39" fill="#000"/>
<text class="hd" x="1127" y="838" font-size="18" style="fill:#fff">1</text>
<text class="hd" x="856.5" y="842" font-size="16" font-weight="bold" style="fill:#000" textLength="445" lengthAdjust="spacingAndGlyphs" xml:space="preserve">ENGR. JOHN FERRY V. DELA CRUZ  [REVIEW INNOVATIONS]</text>
</g>
</svg>
